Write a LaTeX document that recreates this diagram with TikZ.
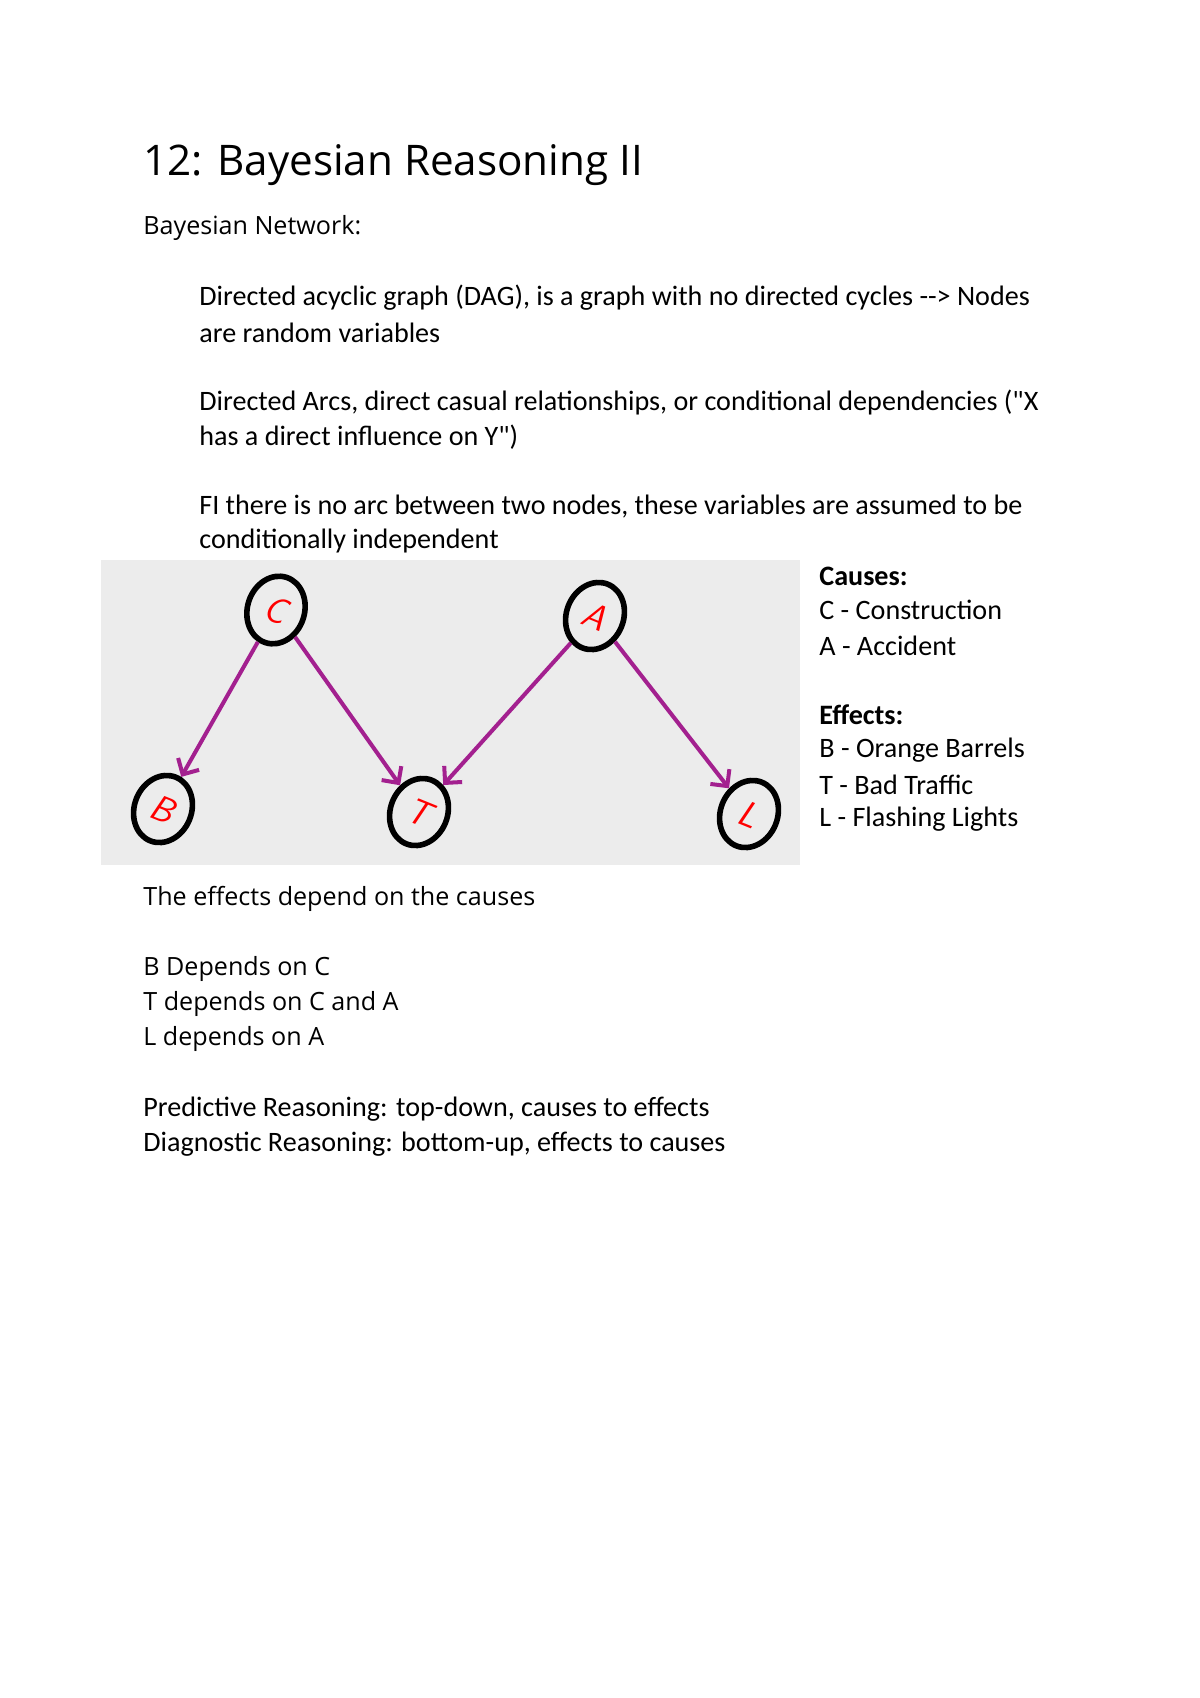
\documentclass[tikz,border=0pt]{standalone}
\usepackage{fontspec}
\setmainfont{Carlito}[Ligatures=TeXOff]
\newfontfamily\segoe{Open Sans}
\usetikzlibrary{shapes.geometric,arrows.meta}
\definecolor{arc}{HTML}{A3208F}
\definecolor{bg}{HTML}{ECECEC}
\begin{document}
\begin{tikzpicture}[x=0.0175cm,y=-0.0175cm,
  txt/.style={anchor=west,inner sep=0,font=\fontsize{14}{17}\selectfont},
  stxt/.style={anchor=west,inner sep=0,font=\segoe\fontsize{12.5}{15}\selectfont},
  rv/.style={draw=black,line width=2.8pt,ellipse,inner sep=0,
    minimum width=1.0cm,minimum height=1.2cm,text=red,font=\sffamily\itshape\fontsize{18}{18}\selectfont},
  arr/.style={draw=arc,line width=2pt,-{Straight Barb[length=6pt,width=12pt]}}]
\useasboundingbox (0,0) rectangle (1200,1698);
\fill[white] (0,0) rectangle (1200,1698);
\begin{scope}[shift={(-4,-4)}]
\node[anchor=west,inner sep=0,font=\segoe\fontsize{21}{25}\selectfont] (title) at (147,169) {12: Bayesian Reasoning II};
\node[stxt] (bn) at (147,232) {Bayesian Network:};
\node[txt] (p1a) at (203,302) {Directed acyclic graph (DAG), is a graph with no directed cycles --> Nodes};
\node[txt] (p1b) at (203,337) {are random variables};
\node[txt] (p2a) at (203,406) {Directed Arcs, direct casual relationships, or conditional dependencies ("X};
\node[txt] (p2b) at (203,441) {has a direct influence on Y")};
\node[txt] (p3a) at (203,511) {FI there is no arc between two nodes, these variables are assumed to be};
\node[txt] (p3b) at (203,545) {conditionally independent};
\fill[bg] (105,564) rectangle (804,869);
\node[rv,rotate=-18] (C) at (280,614) {C};
\node[rv,rotate=-22] (A) at (599,620) {A};
\node[rv,rotate=-22] (B) at (167,813) {B};
\node[rv,rotate=-22] (T) at (423,816) {T};
\node[rv,rotate=-22] (L) at (753,818) {L};
\draw[arr] (C) -- (B);
\draw[arr] (C) -- (T);
\draw[arr] (A) -- (T);
\draw[arr] (A) -- (L);
\node[txt,font=\bfseries\fontsize{14}{17}\selectfont] (ca) at (823,580) {Causes:};
\node[txt] (c1) at (823,614) {C - Construction};
\node[txt] (c2) at (823,650) {A - Accident};
\node[txt,font=\bfseries\fontsize{14}{17}\selectfont] (ef) at (823,719) {Effects:};
\node[txt] (e1) at (823,754) {B - Orange Barrels};
\node[txt] (e2) at (823,789) {T - Bad Traffic};
\node[txt] (e3) at (823,823) {L - Flashing Lights};
\node[stxt] (s1) at (147,903) {The effects depend on the causes};
\node[stxt] (s2) at (147,973) {B Depends on C};
\node[stxt] (s3) at (147,1008) {T depends on C and A};
\node[stxt] (s4) at (147,1043) {L depends on A};
\node[txt] (r1) at (147,1113) {Predictive Reasoning: top-down, causes to effects};
\node[txt] (r2) at (147,1148) {Diagnostic Reasoning: bottom-up, effects to causes};
\end{scope}
\end{tikzpicture}
\end{document}
